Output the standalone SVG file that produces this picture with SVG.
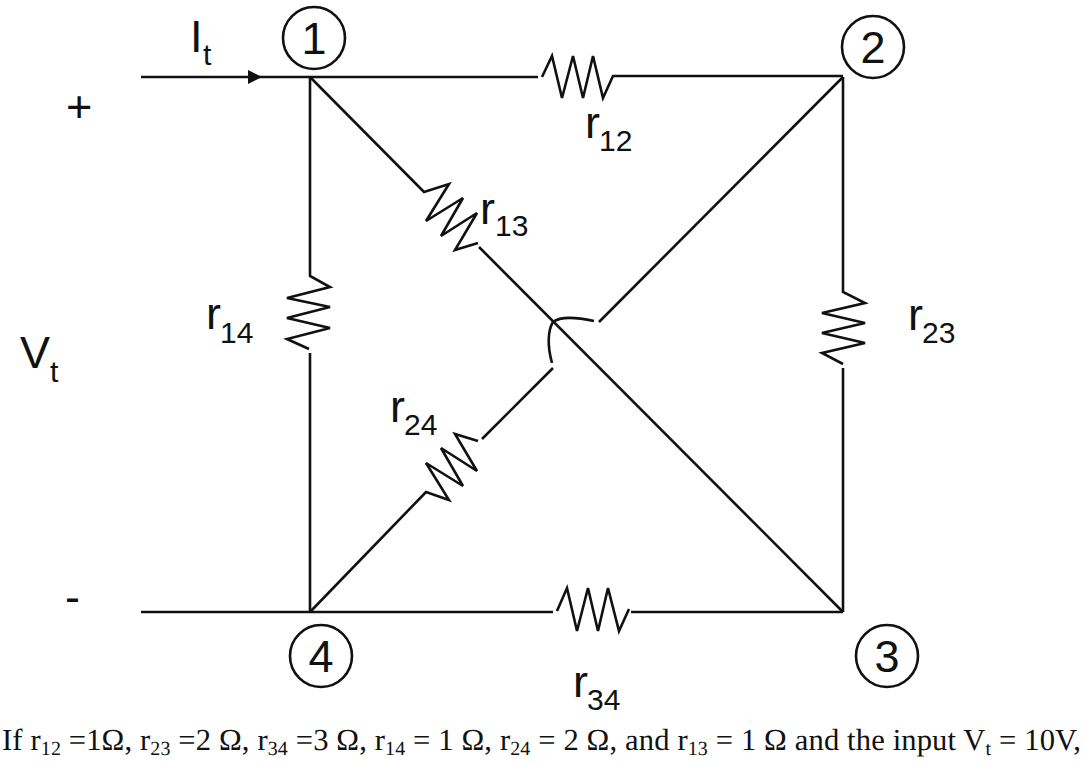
<svg xmlns="http://www.w3.org/2000/svg" width="1084" height="765" viewBox="0 0 1084 765">
<!-- The reference cuts off a second caption line at the bottom edge; only unreadable glyph tops show, so that line is left out. -->
<style>
.w{fill:none;stroke:#111;stroke-width:2.6;stroke-linejoin:miter}
.c{fill:#fff;stroke:#111;stroke-width:2.6}
text{font-family:"Liberation Sans",Arial,sans-serif;fill:#111}
.l{font-size:45px}.s{font-size:30px}.n{font-size:45px;text-anchor:middle}
.f{font-family:"Liberation Serif","Times New Roman",serif;font-size:30.6px;text-rendering:geometricPrecision}
.f .u{font-size:20px}
</style>
<defs><marker id="a" markerWidth="16" markerHeight="16" refX="14" refY="7" orient="auto" markerUnits="userSpaceOnUse"><path d="M0 0L14 7L0 14z" fill="#111"/></marker></defs>
<rect width="1084" height="765" fill="#fff"/>
<g id="connectors">
<path class="w" d="M141 77H262" marker-end="url(#a)"/>
<path class="w" d="M262 77H538"/>
<path class="w" d="M542 77L552 56L562 98L573 56L583 98L593 56L603 98L613 76H843"/>
<path class="w" d="M843 77V292L865 303L822 313L865 323L822 333L865 343L822 353L843 364"/>
<path class="w" d="M843 368V612"/>
<path class="w" d="M141 612H553"/>
<path class="w" d="M557 611L567 588L577 631L588 588L598 631L608 588L619 631L629 609"/>
<path class="w" d="M631 612H843"/>
<path class="w" d="M310 77V276L330 287L287 298L330 307L287 318L330 328L287 339L309 349"/>
<path class="w" d="M310 353V612"/>
<path class="w" d="M310 77L424 192L449 184L426 221L463 198L441 236L477 213L455 250L478 243"/>
<path class="w" d="M479 247L843 612"/>
<path class="w" d="M310 612L426 492L449 500L426 463L463 486L441 448L477 471L455 434L478 441"/>
<path class="w" d="M482 439L553 368"/>
<path class="w" d="M552 363C547 345 548 330 553 322C562 315 580 318 594 321"/>
<path class="w" d="M599 322L843 77"/>
</g>
<g id="node1"><circle class="c" cx="314" cy="38" r="31"/><text class="n" x="314" y="54">1</text></g>
<g id="node2"><circle class="c" cx="873" cy="47" r="31"/><text class="n" x="873" y="63">2</text></g>
<g id="node3"><circle class="c" cx="887" cy="656" r="31"/><text class="n" x="887" y="672">3</text></g>
<g id="node4"><circle class="c" cx="321" cy="656" r="31"/><text class="n" x="321" y="672">4</text></g>
<g id="labels">
<text class="l" x="190" y="52">I</text><text class="s" x="203" y="65">t</text>
<text class="l" x="66" y="122">+</text>
<text class="l" x="65" y="612">-</text>
<text class="l" x="20" y="368">V</text><text class="s" x="50" y="382">t</text>
<text class="l" x="585" y="138">r</text><text class="s" x="599" y="151">12</text>
<text class="l" x="480" y="224">r</text><text class="s" x="495" y="236">13</text>
<text class="l" x="206" y="329">r</text><text class="s" x="220" y="343">14</text>
<text class="l" x="908" y="330">r</text><text class="s" x="922" y="343">23</text>
<text class="l" x="390" y="422">r</text><text class="s" x="404" y="435">24</text>
<text class="l" x="573" y="697">r</text><text class="s" x="587" y="710">34</text>
</g>
<text class="f" x="2" y="750" textLength="1079">If r<tspan class="u" dy="5">12</tspan><tspan dy="-5"> =1Ω, r</tspan><tspan class="u" dy="5">23</tspan><tspan dy="-5"> =2 Ω, r</tspan><tspan class="u" dy="5">34</tspan><tspan dy="-5"> =3 Ω, r</tspan><tspan class="u" dy="5">14</tspan><tspan dy="-5"> = 1 Ω, r</tspan><tspan class="u" dy="5">24</tspan><tspan dy="-5"> = 2 Ω, and r</tspan><tspan class="u" dy="5">13</tspan><tspan dy="-5"> = 1 Ω and the input V</tspan><tspan class="u" dy="5">t</tspan><tspan dy="-5"> = 10V,</tspan></text>
</svg>
